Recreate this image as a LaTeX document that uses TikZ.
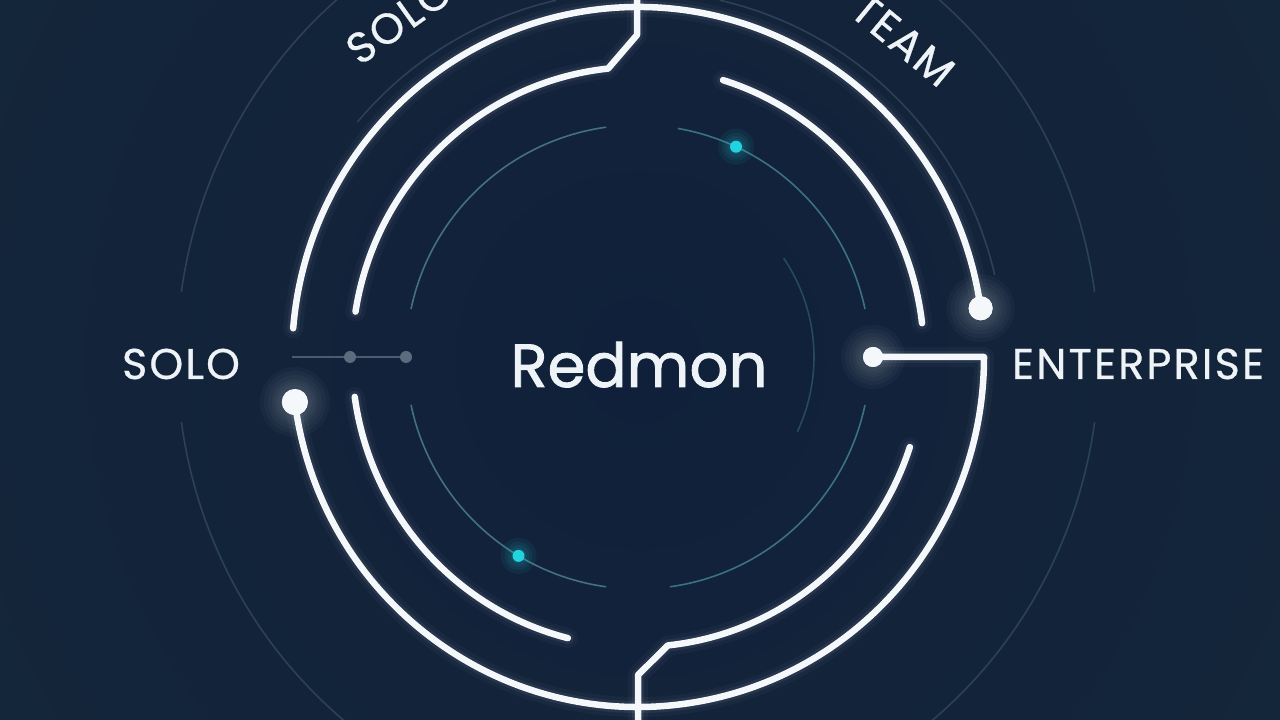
\documentclass[tikz,border=0pt]{standalone}
\usepackage{fontspec}
\setmainfont{Poppins}
\newfontfamily\lblfont[FakeBold=0.6, LetterSpace=5]{Poppins}
\newfontfamily\ttlfont[FakeBold=1.4]{Poppins}
\definecolor{bgc}{HTML}{14263A}
\definecolor{bgin}{HTML}{10203A}
\definecolor{ringw}{HTML}{F4F8FB}
\definecolor{faintg}{HTML}{2C4157}
\definecolor{faintt}{HTML}{3A7183}
\definecolor{greyl}{HTML}{4A5D70}
\definecolor{greyd}{HTML}{5A6C7E}
\definecolor{cyanc}{HTML}{22D3E0}
\definecolor{txt}{HTML}{EEF3F7}
\begin{document}
\begin{tikzpicture}[x=1pt,y=1pt,
  ring/.style={
    preaction={draw=white, line width=20pt, opacity=0.03, line cap=round, line join=round},
    preaction={draw=white, line width=12pt, opacity=0.06, line cap=round, line join=round},
    draw=ringw, line width=6.5pt, line cap=round, line join=round},
  faintgrey/.style={draw=faintg, line width=1.6pt, line cap=round},
  fainteal/.style={draw=faintt, line width=1.6pt, line cap=round},
  greyline/.style={draw=greyl, line width=2pt},
  greydot/.style={circle, fill=greyd, inner sep=0pt, minimum size=12pt},
  whitedot/.style={circle, fill=ringw, inner sep=0pt},
  lbl/.style={text=txt, inner sep=0pt, font=\lblfont\fontsize{43}{43}\selectfont},
  titlefont/.style={text=txt, inner sep=0pt, font=\ttlfont\fontsize{61}{61}\selectfont}
]
\useasboundingbox (0,0) rectangle (1280,720);
\clip (0,0) rectangle (1280,720);
\path[inner color=bgin, outer color=bgc] (-100,-400) rectangle (1380,1120);

\begin{scope}[shift={(638,363)}]
  % faint outer ring
  \draw[faintgrey] (8:461pt and 472pt) arc[start angle=8, end angle=172, x radius=461, y radius=472];
  \draw[faintgrey] (188:461pt and 472pt) arc[start angle=188, end angle=352, x radius=461, y radius=472];
  % faint ring just outside the white ring
  \draw[faintgrey] (103:366pt) arc[start angle=103, end angle=140, radius=366];
  \draw[faintgrey] (77:366pt) arc[start angle=77, end angle=13, radius=366];
  % faint teal inner ring
  \draw[fainteal] (12:232pt) arc[start angle=12, end angle=80, radius=232];
  \draw[fainteal, draw=faintt!70!greyd] (98:232pt) arc[start angle=98, end angle=168, radius=232];
  \draw[fainteal, draw=faintt!70!greyd] (192:232pt) arc[start angle=192, end angle=262, radius=232];
  \draw[fainteal] (278:232pt) arc[start angle=278, end angle=348, radius=232];
  \draw[fainteal, opacity=0.5] (34:176pt) arc[start angle=34, end angle=-25, radius=176];

  % coordinates
  \coordinate (topEnd) at (-1,365);
  \coordinate (topBend) at (-1,322);
  \coordinate (botEnd) at (0,-370);
  \coordinate (botBend) at (0,-318);

  % soft glows for white dots
  \foreach \p/\r in {{(187.4:346pt and 350pt)}/13, {(8:346pt and 350pt)}/12, {(235,0)}/10}{
    \foreach \k in {22,18,14,10,7,4}{
      \fill[white, opacity=0.03] \p circle[radius=\r+\k];
    }
  }

  % outer white ring
  \node[whitedot, minimum size=26pt] (dSolo) at (187.4:346pt and 350pt) {};
  \node[whitedot, minimum size=24pt] (dTR) at (8:346pt and 350pt) {};
  \node[whitedot, minimum size=20pt] (dEnt) at (235,0) {};
  \draw[ring] (dTR.center) arc[start angle=8, end angle=175.3, x radius=346, y radius=350];
  \draw[ring] (dSolo.center) arc[start angle=187.4, end angle=360, x radius=346, y radius=350] -- (dEnt.center);
  \node[whitedot, minimum size=26pt] at (dSolo) {};
  \node[whitedot, minimum size=24pt] at (dTR) {};
  \node[whitedot, minimum size=20pt] at (dEnt) {};

  % inner white ring
  \draw[ring] (171:286pt and 290pt) arc[start angle=171, end angle=96, x radius=286, y radius=290] -- (topBend) -- (topEnd);
  \draw[ring] (72.7:286pt and 290pt) arc[start angle=72.7, end angle=6.7, x radius=286, y radius=290];
  \draw[ring] (187.9:286pt and 290pt) arc[start angle=187.9, end angle=255.8, x radius=286, y radius=290];
  \draw[ring] (botEnd) -- (botBend) -- (276:286pt and 290pt) arc[start angle=276, end angle=341.9, x radius=286, y radius=290];

  % grey connector at SOLO
  \node[greydot] (g1) at (-288,0) {};
  \node[greydot] (g2) at (-232,0) {};
  \coordinate (gStart) at (-346,0);
  \draw[greyline] (gStart) -- (g1) -- (g2);

  % cyan glowing dots
  \foreach \a [count=\i] in {65,239}{
    \foreach \k in {18,14,11,8}{
      \fill[cyanc, opacity=0.07] (\a:232pt) circle[radius=\k];
    }
    \node[circle, fill=cyanc, inner sep=0pt, minimum size=12pt] (c\i) at (\a:232pt) {};
  }
\end{scope}

% texts
\node[lbl, anchor=base] (solo) at (181,341) {SOLO};
\node[lbl, anchor=base] (ent) at (1138,341) {ENTERPRISE};
\node[titlefont, anchor=base] (redmon) at (639,333) {Redmon};
\node[lbl, rotate=35.5] (soloTop) at (399,700) {SOLO};
\node[lbl, rotate=-39.5] (team) at (903,680) {TEAM};
\end{tikzpicture}
\end{document}
